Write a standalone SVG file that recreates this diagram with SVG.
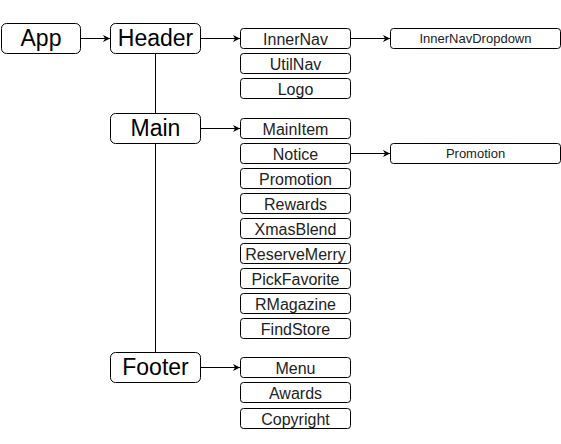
<svg xmlns="http://www.w3.org/2000/svg" width="561" height="444" viewBox="0 0 561 444">
<style>
rect{fill:#fff;stroke:#000;stroke-width:1}
.big{rx:5}
.sm{rx:3}
text{font-family:"Liberation Sans",Arial,sans-serif;text-anchor:middle;fill:#000}
.tb{font-size:23px}
.ts{font-size:16px;fill:#222}
.tr{font-size:13px;fill:#222}
.c line{stroke:#000;stroke-width:1;fill:none}
</style>
<defs>
<marker id="ah" markerWidth="8" markerHeight="8" refX="7" refY="4" orient="auto" markerUnits="userSpaceOnUse">
<path d="M0,0.5 L7,4 L0,7.5 L2,4 Z" fill="#000"/>
</marker>
</defs>
<g class="c" id="connectors">
<line x1="155.5" y1="53" x2="155.5" y2="353"/>
<line x1="81" y1="38.5" x2="110" y2="38.5" marker-end="url(#ah)"/>
<line x1="201" y1="38.5" x2="240" y2="38.5" marker-end="url(#ah)"/>
<line x1="351" y1="38.5" x2="390" y2="38.5" marker-end="url(#ah)"/>
<line x1="201" y1="128.5" x2="240" y2="128.5" marker-end="url(#ah)"/>
<line x1="351" y1="153.5" x2="390" y2="153.5" marker-end="url(#ah)"/>
<line x1="201" y1="367.5" x2="240" y2="367.5" marker-end="url(#ah)"/>
</g>
<g id="app"><rect class="big" x="1.5" y="23.5" width="79" height="30"/><text class="tb" x="41" y="46">App</text></g>
<g id="header"><rect class="big" x="110.5" y="23.5" width="90" height="30"/><text class="tb" x="155.5" y="46">Header</text></g>
<g id="main"><rect class="big" x="110.5" y="113.5" width="90" height="30"/><text class="tb" x="155.5" y="136">Main</text></g>
<g id="footer"><rect class="big" x="110.5" y="352.5" width="90" height="30"/><text class="tb" x="155.5" y="375">Footer</text></g>
<g id="innernav"><rect class="sm" x="240.5" y="28.5" width="110" height="20"/><text class="ts" x="295.5" y="44.5">InnerNav</text></g>
<g id="utilnav"><rect class="sm" x="240.5" y="53.5" width="110" height="20"/><text class="ts" x="295.5" y="69.5">UtilNav</text></g>
<g id="logo"><rect class="sm" x="240.5" y="78.5" width="110" height="20"/><text class="ts" x="295.5" y="94.5">Logo</text></g>
<g id="mainitem"><rect class="sm" x="240.5" y="118.5" width="110" height="20"/><text class="ts" x="295.5" y="134.5">MainItem</text></g>
<g id="notice"><rect class="sm" x="240.5" y="143.5" width="110" height="20"/><text class="ts" x="295.5" y="159.5">Notice</text></g>
<g id="promotion"><rect class="sm" x="240.5" y="168.5" width="110" height="20"/><text class="ts" x="295.5" y="184.5">Promotion</text></g>
<g id="rewards"><rect class="sm" x="240.5" y="193.5" width="110" height="20"/><text class="ts" x="295.5" y="209.5">Rewards</text></g>
<g id="xmasblend"><rect class="sm" x="240.5" y="218.5" width="110" height="20"/><text class="ts" x="295.5" y="234.5">XmasBlend</text></g>
<g id="reservemerry"><rect class="sm" x="240.5" y="243.5" width="110" height="20"/><text class="ts" x="295.5" y="259.5">ReserveMerry</text></g>
<g id="pickfavorite"><rect class="sm" x="240.5" y="268.5" width="110" height="20"/><text class="ts" x="295.5" y="284.5">PickFavorite</text></g>
<g id="rmagazine"><rect class="sm" x="240.5" y="293.5" width="110" height="20"/><text class="ts" x="295.5" y="309.5">RMagazine</text></g>
<g id="findstore"><rect class="sm" x="240.5" y="318.5" width="110" height="20"/><text class="ts" x="295.5" y="334.5">FindStore</text></g>
<g id="menu"><rect class="sm" x="240.5" y="357.5" width="110" height="20"/><text class="ts" x="295.5" y="373.5">Menu</text></g>
<g id="awards"><rect class="sm" x="240.5" y="382.5" width="110" height="20"/><text class="ts" x="295.5" y="398.5">Awards</text></g>
<g id="copyright"><rect class="sm" x="240.5" y="408.5" width="110" height="20"/><text class="ts" x="295.5" y="424.5">Copyright</text></g>
<g id="innernavdropdown"><rect class="sm" x="390.5" y="28.5" width="170" height="20"/><text class="tr" x="475.5" y="43">InnerNavDropdown</text></g>
<g id="promotion2"><rect class="sm" x="390.5" y="143.5" width="170" height="20"/><text class="tr" x="475.5" y="158">Promotion</text></g>
</svg>
